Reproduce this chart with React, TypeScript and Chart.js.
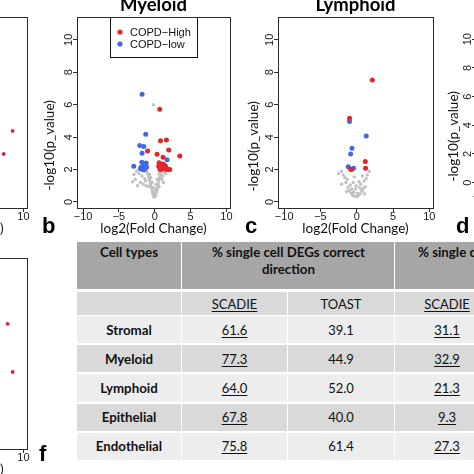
import React, { useEffect, useRef } from "react";
import { Chart, registerables } from "chart.js";

Chart.register(...registerables);

type Pt = [number, number];

// ---- axis data ----
const xTicks = [-10, -5, 0, 5, 10];
const xTickLabels = ["\u221210", "\u22125", "0", "5", "10"];
const yTicks = [0, 2, 4, 6, 8, 10];
const yTickLabels = ["0", "2", "4", "6", "8", "10"];
const xRange: Pt = [-10.85, 10.5];
const yRange: Pt = [-0.37, 11.42];
const legendLabels = ["COPD\u2212High", "COPD\u2212low"];

// ---- panel a (Stromal, only right edge visible) ----
const stromalHigh: Pt[] = [[8.5, 4.38], [7.25, 2.96]];

// ---- panel b (Myeloid) ----
const myeloidHigh: Pt[] = [
  [0.7, 5.72], [1.63, 3.83], [0.8, 3.77], [1.95, 3.2], [-1.0, 3.15], [0.32, 2.94],
  [1.16, 2.76], [3.49, 2.84], [0.6, 2.42], [0.8, 2.3], [1.0, 2.2], [1.2, 2.12],
  [1.4, 2.05], [1.6, 2.0], [0.7, 2.1], [1.1, 2.35], [1.9, 2.0], [2.1, 2.0],
  [0.9, 2.02], [1.5, 2.2], [0.55, 2.2], [1.3, 2.3], [0.75, 2.0],
];
const myeloidLow: Pt[] = [
  [-1.77, 6.65], [-1.26, 4.18], [-2.09, 3.48], [-1.53, 3.42], [-1.77, 3.0], [-2.93, 2.2],
  [1.72, 2.6], [-1.8, 2.45], [-1.55, 2.35], [-1.25, 2.3], [-1.9, 2.15], [-1.6, 2.1],
  [-1.35, 2.05], [-1.15, 2.15], [-2.0, 2.05], [-1.45, 2.2], [-1.7, 2.0], [-1.2, 2.4], [-1.5, 2.0],
];
const myeloidNs: Pt[] = [
  [-0.1, 0.3], [0.05, 0.35], [-0.2, 0.42], [0.15, 0.45], [-0.3, 0.55], [0.25, 0.6],
  [-0.35, 0.7], [0.3, 0.72], [-0.45, 0.85], [0.4, 0.88], [-0.5, 0.95], [0.45, 1.0],
  [-0.6, 1.1], [0.5, 1.12], [-0.65, 1.25], [0.55, 1.3], [-0.75, 1.38], [0.65, 1.42],
  [-0.8, 1.5], [0.7, 1.55], [-0.9, 1.62], [0.75, 1.68], [-1.0, 1.75], [0.85, 1.8],
  [-1.1, 1.85], [0.9, 1.9], [-0.25, 0.9], [0.1, 0.8], [-0.4, 1.2], [0.2, 1.1],
  [-0.55, 1.5], [0.35, 1.4], [-0.7, 1.7], [0.6, 1.75], [-0.15, 0.6], [0.0, 0.5],
  [-1.3, 1.3], [-1.6, 1.1], [-2.0, 1.2], [-2.4, 1.0], [-2.7, 1.4], [-2.9, 1.7],
  [-1.8, 1.6], [-2.2, 1.75], [-1.5, 1.9], [-2.5, 1.9], [1.1, 1.6], [1.3, 1.85],
  [1.2, 1.2], [1.0, 1.4], [-1.2, 1.0], [-0.85, 0.95], [0.6, 0.95], [-1.4, 1.45],
  [-3.1, 1.25], [1.5, 1.75], [-0.2, 6.0],
];

// ---- panel c (Lymphoid) ----
const lymphoidHigh: Pt[] = [
  [2.14, 7.53], [-0.99, 5.17], [1.17, 2.49], [-0.72, 2.0], [1.21, 2.08], [-0.85, 2.02],
];
const lymphoidLow: Pt[] = [
  [-1.0, 4.96], [1.31, 4.07], [-0.66, 3.31], [-0.85, 2.96], [-1.17, 2.18], [-0.44, 2.08],
];
const lymphoidNs: Pt[] = [
  [-2.1, 1.9], [-1.86, 1.67], [-2.1, 1.1], [-1.3, 1.4], [-1.0, 0.7], [-0.6, 0.43],
  [0.0, 0.33], [0.76, 0.64], [1.2, 0.95], [1.45, 1.67], [1.7, 1.9], [0.3, 1.25],
  [-0.3, 0.35], [0.2, 0.4], [-0.45, 0.6], [0.45, 0.5], [-0.8, 0.55], [0.6, 0.75],
  [-1.2, 0.9], [0.9, 0.85], [-0.9, 1.05], [1.0, 1.3], [-0.5, 1.2], [0.1, 0.55],
  [-0.2, 0.8], [0.35, 0.9], [-1.5, 1.2], [-0.7, 0.8], [1.1, 0.5], [-1.4, 0.65],
  [0.8, 1.6], [-0.35, 1.55], [1.3, 1.45], [-1.65, 1.5], [0.55, 1.1], [-0.1, 1.0], [-2.5, 1.75],
];

// ---- panel e (Endothelial, only right edge visible) ----
const endothelialHigh: Pt[] = [[7.8, 7.35], [8.5, 4.38]];

// ---- table f ----
const cellTypes = ["Stromal", "Myeloid", "Lymphoid", "Epithelial", "Endothelial"];
const scadieDir = ["61.6", "77.3", "64.0", "67.8", "75.8"];
const toastDir = ["39.1", "44.9", "52.0", "40.0", "61.4"];
const scadieSig = ["31.1", "32.9", "21.3", "9.3", "27.3"];
const headerCell = "Cell types";
const headerDir = ["% single cell DEGs correct", "direction"];
const headerNext = "% single cell DEGs correct direction";
const methods = ["SCADIE", "TOAST", "SCADIE"];

const RED = "#e3262b";
const BLUE = "#4169e1";
const GREY = "#c1c1c1";
const AXIS_TITLE_SIZE = 13.5;

const boxPlugin = {
  id: "frameBox",
  afterDraw(chart: any) {
    const { ctx, chartArea: a } = chart;
    ctx.save();
    ctx.strokeStyle = "#2b2b2b";
    ctx.lineWidth = 1;
    ctx.strokeRect(Math.round(a.left) + 0.5, Math.round(a.top) + 0.5, Math.round(a.right - a.left), Math.round(a.bottom - a.top));
    ctx.restore();
  },
};

const yTitlePlugin = {
  id: "yTitle",
  afterDraw(chart: any, _args: any, o: any) {
    if (!o || !o.text) return;
    const { ctx, chartArea: a, scales } = chart;
    ctx.save();
    ctx.translate(scales.y.left + o.x, (a.top + a.bottom) / 2 + o.dy);
    ctx.rotate(-Math.PI / 2);
    ctx.font = AXIS_TITLE_SIZE + "px Lato";
    ctx.fillStyle = "#111";
    ctx.textAlign = "center";
    ctx.textBaseline = "middle";
    ctx.fillText(o.text, 0, 0);
    ctx.restore();
  },
};

const legendPlugin = {
  id: "legendBox",
  afterDatasetsDraw(chart: any, _args: any, o: any) {
    if (!o || !o.show) return;
    const { ctx, chartArea: a } = chart;
    const x0 = Math.round(a.left + o.dx);
    const y0 = Math.round(a.top);
    ctx.save();
    ctx.fillStyle = "#fff";
    ctx.fillRect(x0, y0, o.w, o.h);
    ctx.strokeStyle = "#111";
    ctx.lineWidth = 1;
    ctx.strokeRect(x0 + 0.5, y0 + 0.5, o.w, o.h);
    ctx.font = '11px "Liberation Sans"';
    ctx.textBaseline = "middle";
    ctx.textAlign = "left";
    o.labels.forEach((lab: string, i: number) => {
      const ds = chart.data.datasets[i];
      const cy = y0 + 15 + i * 12;
      ctx.fillStyle = ds.backgroundColor;
      ctx.beginPath();
      ctx.arc(x0 + 10, cy, 2.6, 0, Math.PI * 2);
      ctx.fill();
      ctx.fillStyle = "#111";
      ctx.fillText(lab, x0 + 20, cy + 0.5);
    });
    ctx.restore();
  },
};

interface PanelProps {
  left: number;
  top: number;
  width: number;
  height: number;
  title: string;
  high: Pt[];
  low: Pt[];
  ns: Pt[];
  legend?: boolean;
  yTitleX: number;
  yTitleDy: number;
  highColor?: string;
  dotR?: number;
}

const toXY = (arr: Pt[]) => arr.map(([x, y]) => ({ x, y }));

function Volcano(p: PanelProps) {
  const ref = useRef<HTMLCanvasElement>(null);
  useEffect(() => {
    const tickGrid = {
      display: true,
      drawOnChartArea: false,
      drawTicks: true,
      tickLength: 4,
      color: "#2b2b2b",
      lineWidth: 1,
    };
    const chart = new Chart(ref.current as HTMLCanvasElement, {
      type: "scatter",
      data: {
        datasets: [
          { label: legendLabels[0], data: toXY(p.high), backgroundColor: p.highColor || RED, pointRadius: p.dotR || 2.5, borderWidth: 0 },
          { label: legendLabels[1], data: toXY(p.low), backgroundColor: BLUE, pointRadius: p.dotR || 2.5, borderWidth: 0 },
          { label: "NS", data: toXY(p.ns), backgroundColor: GREY, pointRadius: 1.7, borderWidth: 0 },
        ],
      },
      options: {
        animation: false,
        responsive: false,
        maintainAspectRatio: false,
        events: [],
        layout: { padding: { left: 0, right: 10, top: 0, bottom: 0 } },
        plugins: {
          legend: { display: false },
          tooltip: { enabled: false },
          title: {
            display: true,
            text: p.title,
            fullSize: false,
            color: "#000",
            font: { family: "Lato", size: 18.5, weight: "bold", lineHeight: 1.2 },
            padding: { top: 6, bottom: 0.6 },
          },
          yTitle: { text: "-log10(p_value)", x: p.yTitleX, dy: p.yTitleDy },
          legendBox: { show: !!p.legend, dx: 33, w: 87, h: 40, labels: legendLabels },
        } as any,
        scales: {
          x: {
            type: "linear",
            min: xRange[0],
            max: xRange[1],
            afterBuildTicks: (s: any) => {
              s.ticks = xTicks.map((v) => ({ value: v }));
            },
            afterFit: (s: any) => {
              s.height = 35;
            },
            grid: tickGrid,
            border: { display: false },
            ticks: {
              autoSkip: false,
              maxRotation: 0,
              padding: -2,
              color: "#222",
              font: { family: "Liberation Sans", size: 11 },
              callback: (v: any) => xTickLabels[xTicks.indexOf(Number(v))] ?? "",
            },
            title: {
              display: true,
              text: "log2(Fold Change)",
              color: "#111",
              font: { family: "Lato", size: AXIS_TITLE_SIZE, lineHeight: 1.2 },
              padding: { top: 0, bottom: 6 },
            },
          },
          y: {
            type: "linear",
            min: yRange[0],
            max: yRange[1],
            afterBuildTicks: (s: any) => {
              s.ticks = yTicks.map((v) => ({ value: v }));
            },
            afterFit: (s: any) => {
              s.width = 47;
            },
            grid: tickGrid,
            border: { display: false },
            ticks: {
              autoSkip: false,
              minRotation: 90,
              maxRotation: 90,
              crossAlign: "center",
              padding: -2,
              color: "#222",
              font: { family: "Liberation Sans", size: 11 },
              callback: (v: any) => yTickLabels[yTicks.indexOf(Number(v))] ?? "",
            },
            title: { display: false },
          },
        },
      } as any,
      plugins: [boxPlugin, yTitlePlugin, legendPlugin],
    });
    return () => chart.destroy();
  }, []);
  return (
    <canvas
      ref={ref}
      width={p.width}
      height={p.height}
      style={{ position: "absolute", left: p.left, top: p.top, width: p.width, height: p.height }}
    />
  );
}

const letterStyle = (left: number, top: number): React.CSSProperties => ({
  position: "absolute",
  left,
  top,
  fontFamily: '"Liberation Sans", Arial, sans-serif',
  fontWeight: "bold",
  fontSize: 22,
  lineHeight: "22px",
  color: "#000",
});

function Cell(props: { x: number; y: number; w: number; h: number; bg: string; children?: React.ReactNode; align?: string; style?: React.CSSProperties }) {
  return (
    <div
      style={{
        position: "absolute",
        left: props.x,
        top: props.y,
        width: props.w,
        height: props.h,
        boxSizing: "border-box",
        border: "1px solid #fff",
        background: props.bg,
        display: "flex",
        flexDirection: "column",
        alignItems: "center",
        justifyContent: props.align === "top" ? "flex-start" : "center",
        fontFamily: "Lato, sans-serif",
        fontSize: 13,
        color: "#111",
        textAlign: "center",
        whiteSpace: "nowrap",
        ...props.style,
      }}
    >
      {props.children}
    </div>
  );
}

function Table() {
  const colX = [76, 181, 287, 394];
  const colW = [106, 107, 108, 106];
  const headTop = 241;
  const headH = 49;
  const subTop = 291;
  const subH = 25;
  const rowTop = 315;
  const rowH = 29.2;
  const HEAD = "#a6a6a6";
  const DARK = "#d9d9d9";
  const LIGHT = "#ededed";
  const bold: React.CSSProperties = { fontWeight: "bold", fontSize: 13.3 };
  const underline: React.CSSProperties = { textDecoration: "underline", textUnderlineOffset: 2 };
  return (
    <>
      <Cell x={colX[0]} y={headTop} w={colW[0]} h={headH} bg={HEAD} align="top" style={{ ...bold, paddingTop: 2, lineHeight: "17px" }}>
        {headerCell}
      </Cell>
      <Cell x={colX[1]} y={headTop} w={colW[1] + colW[2]} h={headH} bg={HEAD} align="top" style={{ ...bold, paddingTop: 2, lineHeight: "17px" }}>
        {headerDir.map((t, i) => (
          <div key={i}>{t}</div>
        ))}
      </Cell>
      <Cell x={colX[3]} y={headTop} w={200} h={headH} bg={HEAD} align="top" style={{ ...bold, paddingTop: 2, lineHeight: "17px", alignItems: "flex-start", paddingLeft: 23 }}>
        {headerNext}
      </Cell>
      <Cell x={colX[0]} y={subTop} w={colW[0]} h={subH} bg={DARK} />
      {methods.map((m, i) => (
        <Cell key={m + i} x={colX[i + 1]} y={subTop} w={colW[i + 1]} h={subH} bg={DARK} style={i !== 1 ? underline : {}}>
          {m}
        </Cell>
      ))}
      {cellTypes.map((ct, r) => {
        const bg = r % 2 === 0 ? LIGHT : DARK;
        const y = rowTop + r * rowH;
        return (
          <React.Fragment key={ct}>
            <Cell x={colX[0]} y={y} w={colW[0]} h={rowH} bg={bg} style={bold}>
              {ct}
            </Cell>
            <Cell x={colX[1]} y={y} w={colW[1]} h={rowH} bg={bg} style={underline}>
              {scadieDir[r]}
            </Cell>
            <Cell x={colX[2]} y={y} w={colW[2]} h={rowH} bg={bg}>
              {toastDir[r]}
            </Cell>
            <Cell x={colX[3]} y={y} w={colW[3]} h={rowH} bg={bg} style={underline}>
              {scadieSig[r]}
            </Cell>
          </React.Fragment>
        );
      })}
    </>
  );
}

export default function App() {
  return (
    <div
      style={{
        position: "fixed",
        left: 0,
        top: 0,
        width: 474,
        height: 474,
        overflow: "hidden",
        background: "#fff",
      }}
    >
      <Volcano left={-173} top={-12} width={210} height={255} title="Stromal" high={stromalHigh} low={[]} ns={[]} yTitleX={20} yTitleDy={33} highColor="#d81e48" dotR={1.9} />
      <Volcano left={30} top={-12} width={210} height={255} title="Myeloid" high={myeloidHigh} low={myeloidLow} ns={myeloidNs} legend yTitleX={20} yTitleDy={33} />
      <Volcano left={231} top={-12} width={212} height={255} title="Lymphoid" high={lymphoidHigh} low={lymphoidLow} ns={lymphoidNs} yTitleX={23} yTitleDy={34} />
      <Volcano left={429} top={-10} width={210} height={233} title="Epithelial" high={[]} low={[]} ns={[]} yTitleX={25} yTitleDy={33} />
      <Volcano left={-173} top={229} width={210} height={255} title="Endothelial" high={endothelialHigh} low={[]} ns={[]} yTitleX={20} yTitleDy={33} highColor="#d81e48" dotR={1.9} />
      <div style={letterStyle(42, 215)}>b</div>
      <div style={letterStyle(245, 215)}>c</div>
      <div style={letterStyle(456, 215)}>d</div>
      <div style={letterStyle(39, 443)}>f</div>
      <Table />
    </div>
  );
}
